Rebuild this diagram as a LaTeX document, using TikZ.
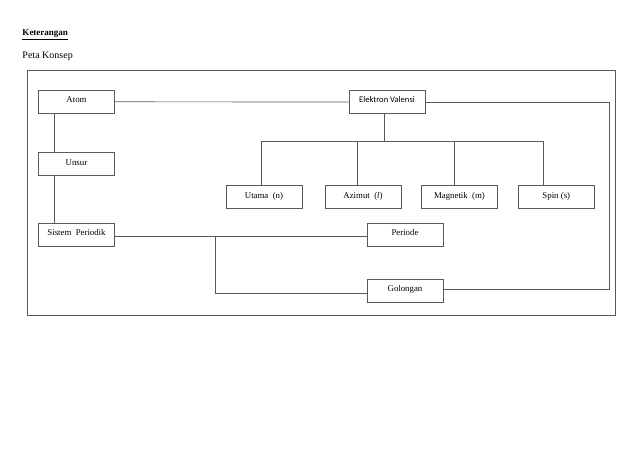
\documentclass[tikz,border=0pt]{standalone}
\usepackage{fontspec}
\setmainfont{Liberation Serif}
\newfontfamily\calibri{Carlito}
\usetikzlibrary{positioning}

\begin{document}
\begin{tikzpicture}
[x=1pt, y=-1pt,
 box/.style={draw=black!65, line width=0.7pt, minimum width=76pt,
   minimum height=23pt, inner sep=0pt, text height=6.5pt, text depth=5pt,
   font=\fontsize{8.8}{10}\selectfont},
 link/.style={draw=black!65, line width=0.7pt}
]
\useasboundingbox (0,0) rectangle (638,452);

% judul
\node[anchor=base west, inner sep=0pt, font=\fontsize{9}{11}\selectfont\bfseries] (ket) at (22.3,36) {\underline{Keterangan}};
\node[anchor=base west, inner sep=0pt, font=\fontsize{10}{12}\selectfont] (peta) at (22.3,59) {Peta Konsep};

% bingkai
\draw[link] (27.5,70.8) rectangle (615.5,315.7);

% kotak
\node[box] (atom) at (76.5,101.8) {Atom};
\node[box] (unsur) at (76.5,164.3) {Unsur};
\node[box] (sistem) at (76.5,234.8) {Sistem\ \ Periodik};
\node[box, font=\fontsize{8.6}{10}\selectfont\calibri] (ev) at (387,102) {Elektron Valensi};
\node[box] (utama) at (264,197.3) {Utama\ \ (n)};
\node[box] (azimut) at (363,197.3) {Azimut\ \ (\textit{l})};
\node[box] (magnetik) at (459.5,197.3) {Magnetik\ \ (m)};
\node[box] (spin) at (556.3,197.3) {Spin (s)};
\node[box] (periode) at (405,234.8) {Periode};
\node[box] (golongan) at (405,291) {Golongan};

\coordinate (bus) at (384.7,141);
\coordinate (junc) at (215.5,236);

% garis
\draw[link] (atom) -- (ev);
\draw[link] ([xshift=-22.5pt]atom.south) -- ([xshift=-22.5pt]unsur.north);
\draw[link] ([xshift=-22.5pt]unsur.south) -- ([xshift=-22.5pt]sistem.north);
\draw[link] (sistem.east |- junc) -- (periode.west |- junc);
\draw[link] (junc) |- ([yshift=-2pt]golongan.west);
\draw[link] ([yshift=2pt]golongan.east) -- ++(166,0) |- (ev.east);
\draw[link] (ev.south -| bus) -- (bus);
\draw[link] ([xshift=-3pt]utama.north) |- ([xshift=-13pt]spin.north |- bus) -- ([xshift=-13pt]spin.north);
\foreach \n/\dx in {azimut/-5.3, magnetik/-5.2}
  \draw[link] ([xshift=\dx pt]\n.north) -- ([xshift=\dx pt]\n.north |- bus);
\end{tikzpicture}
\end{document}
